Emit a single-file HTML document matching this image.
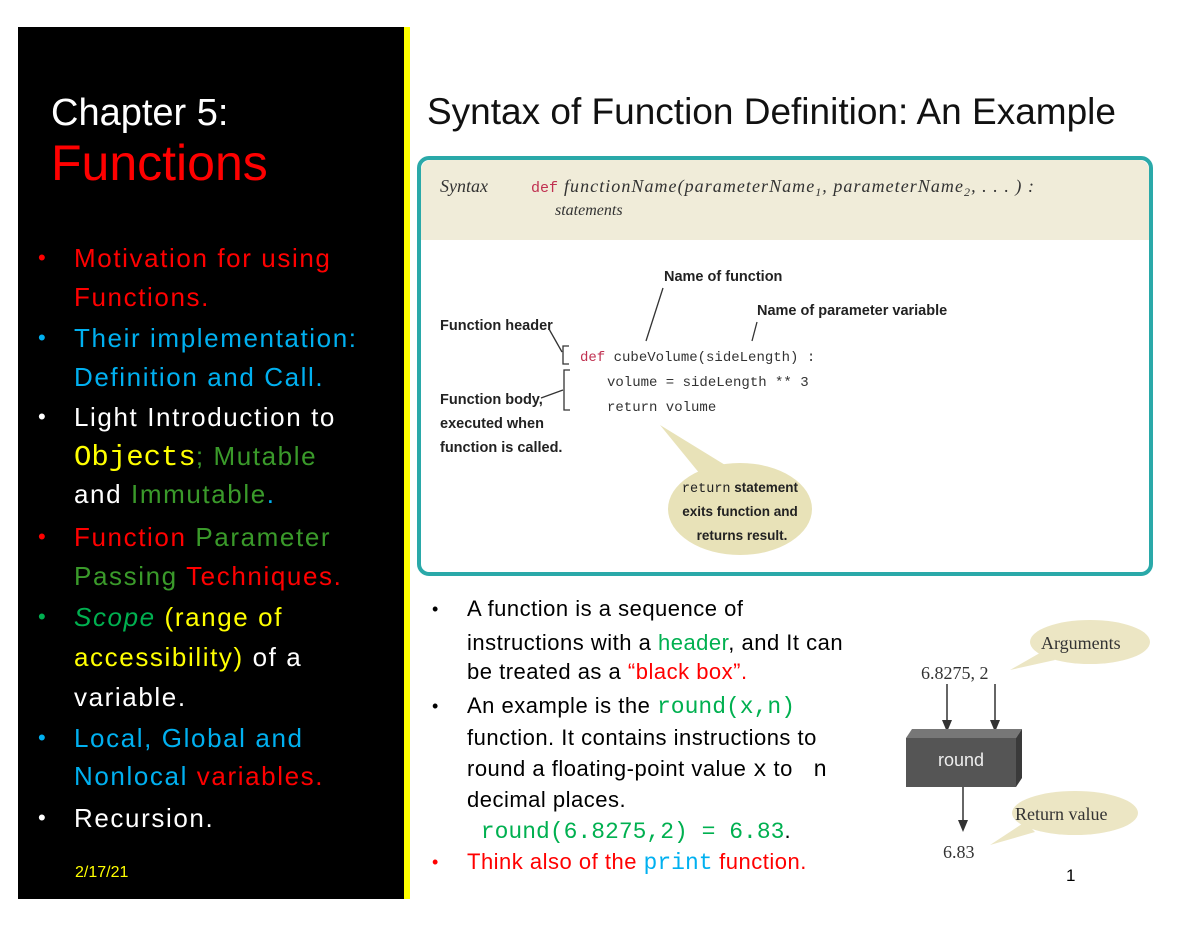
<!DOCTYPE html>
<html><head><meta charset="utf-8"><style>
body{margin:0;width:1200px;height:927px;background:#fff;position:relative;overflow:hidden;font-family:"Liberation Sans",sans-serif}
.a{position:absolute;white-space:nowrap}
#left{position:absolute;left:18px;top:27px;width:386px;height:872px;background:#000}
#ybar{position:absolute;left:404px;top:27px;width:6px;height:872px;background:#ffff00}
.l{position:absolute;left:74px;font-size:26px;letter-spacing:1.6px;line-height:40px;height:40px;white-space:nowrap}
.bd{position:absolute;left:38px;font-size:22px;line-height:40px;height:40px}
.R{color:#ff0000}.B{color:#00b0f0}.W{color:#fff}.G{color:#3a9a2a}.Y{color:#ffff00}.GG{color:#00b050}
.m{font-family:"Liberation Mono",monospace;letter-spacing:0}
.r{position:absolute;left:467px;font-size:22px;letter-spacing:0.5px;line-height:30px;height:30px;white-space:nowrap;color:#000}
.rd{position:absolute;left:432px;font-size:18px;line-height:30px;height:30px}
.rm{font-family:"Liberation Mono",monospace;font-size:23px;letter-spacing:0}
</style></head><body>
<div id="left"></div><div id="ybar"></div>
<div class="a W" style="left:51px;top:90px;font-size:38px;line-height:46px">Chapter 5:</div>
<div class="a R" style="left:51px;top:134px;font-size:50px;line-height:58px">Functions</div>

<div class="bd R" style="top:238px">•</div><div class="l R" style="top:238px">Motivation for using</div>
<div class="l R" style="top:277px">Functions.</div>
<div class="bd B" style="top:318px">•</div><div class="l B" style="top:318px">Their implementation:</div>
<div class="l B" style="top:357px">Definition and Call.</div>
<div class="bd W" style="top:397px">•</div><div class="l W" style="top:397px">Light Introduction to</div>
<div class="l" style="top:436px"><span class="Y m" style="font-size:29px">Objects</span><span class="G">; Mutable</span></div>
<div class="l" style="top:474px"><span class="W">and </span><span class="G">Immutable</span><span class="B">.</span></div>
<div class="bd R" style="top:517px">•</div><div class="l" style="top:517px"><span class="R">Function </span><span class="G">Parameter</span></div>
<div class="l" style="top:556px"><span class="G">Passing </span><span class="R">Techniques.</span></div>
<div class="bd GG" style="top:597px">•</div><div class="l" style="top:597px"><i class="GG">Scope</i><span class="Y"> (range of</span></div>
<div class="l" style="top:637px"><span class="Y">accessibility)</span><span class="W"> of a</span></div>
<div class="l W" style="top:677px">variable.</div>
<div class="bd B" style="top:718px">•</div><div class="l B" style="top:718px">Local, Global and</div>
<div class="l" style="top:756px"><span class="B">Nonlocal </span><span class="R">variables.</span></div>
<div class="bd W" style="top:798px">•</div><div class="l W" style="top:798px">Recursion.</div>
<div class="a Y" style="left:75px;top:864px;font-size:16px">2/17/21</div>

<div class="a" style="left:427px;top:89px;font-size:37px;line-height:46px;color:#111">Syntax of Function Definition: An Example</div>

<svg class="a" style="left:0;top:0" width="1200" height="927">
<rect x="419" y="158" width="732" height="416" rx="10" fill="#fff" stroke="#2aa9a9" stroke-width="4"/>
<path d="M421 170 a10 10 0 0 1 10 -10 H1139 a10 10 0 0 1 10 10 V240 H421Z" fill="#f0ecd9"/>
<g font-family="Liberation Serif,serif" font-size="18" fill="#333">
<text x="440" y="192" font-style="italic">Syntax</text>
<text x="531" y="192" font-family="Liberation Mono,monospace" font-size="15" fill="#c03050">def</text>
<text x="564" y="192" font-style="italic" textLength="470">functionName(parameterName<tspan font-size="12" dy="4">1</tspan><tspan dy="-4">, parameterName</tspan><tspan font-size="12" dy="4">2</tspan><tspan dy="-4">, . . . ) :</tspan></text>
<text x="555" y="215" font-style="italic" font-size="16">statements</text>
</g>
<g font-family="Liberation Sans Narrow,Liberation Sans,sans-serif" font-weight="bold" font-size="14.5" fill="#222">
<text x="664" y="281">Name of function</text>
<text x="757" y="315">Name of parameter variable</text>
<text x="440" y="330">Function header</text>
<text x="440" y="404">Function body,</text>
<text x="440" y="428">executed when</text>
<text x="440" y="452">function is called.</text>
</g>
<g stroke="#333" stroke-width="1.3" fill="none">
<line x1="663" y1="288" x2="646" y2="341"/>
<line x1="757" y1="322" x2="752" y2="341"/>
<line x1="549" y1="329" x2="562" y2="352"/>
<path d="M569 346 H563 V364 H569"/>
<path d="M570 370 H564 V410 H570"/>
<line x1="541" y1="398" x2="563" y2="390"/>
</g>
<g font-family="Liberation Mono,monospace" font-size="14" fill="#333">
<text x="580" y="361"><tspan fill="#c03050">def</tspan> cubeVolume(sideLength) :</text>
<text x="607" y="386">volume = sideLength ** 3</text>
<text x="607" y="411">return volume</text>
</g>
<ellipse cx="740" cy="509" rx="72" ry="46" fill="#e8e2b8"/>
<path d="M660 425 L700 474 L730 468Z" fill="#e8e2b8"/>
<g font-family="Liberation Sans Narrow,Liberation Sans,sans-serif" font-weight="bold" font-size="13.5" fill="#222" text-anchor="middle">
<text x="740" y="492"><tspan font-family="Liberation Mono,monospace" font-weight="normal">return</tspan> statement</text>
<text x="740" y="516">exits function and</text>
<text x="742" y="540">returns result.</text>
</g>
<ellipse cx="1090" cy="642" rx="60" ry="22" fill="#ece6c4"/>
<path d="M1010 670 L1045 650 L1055 660Z" fill="#ece6c4"/>
<ellipse cx="1075" cy="813" rx="63" ry="22" fill="#ece6c4"/>
<path d="M990 845 L1025 822 L1035 832Z" fill="#ece6c4"/>
<g font-family="Liberation Serif,serif" font-size="18" fill="#333">
<text x="1041" y="649">Arguments</text>
<text x="921" y="679">6.8275, 2</text>
<text x="1015" y="820">Return value</text>
<text x="943" y="858">6.83</text>
</g>
<g stroke="#333" stroke-width="1.5">
<line x1="947" y1="684" x2="947" y2="722"/><line x1="995" y1="684" x2="995" y2="722"/>
<line x1="963" y1="787" x2="963" y2="822"/>
</g>
<g fill="#333"><path d="M942 720 L952 720 L947 732Z"/><path d="M990 720 L1000 720 L995 732Z"/><path d="M958 820 L968 820 L963 832Z"/></g>
<path d="M906 738 L912 729 L1022 729 L1016 738Z" fill="#777"/>
<path d="M1016 738 L1022 729 L1022 778 L1016 787Z" fill="#3a3a3a"/>
<rect x="906" y="738" width="110" height="49" fill="#555"/>
<text x="961" y="766" text-anchor="middle" font-family="Liberation Sans,sans-serif" font-size="18" fill="#eee">round</text>
<text x="1066" y="881" font-family="Liberation Sans,sans-serif" font-size="17" fill="#000">1</text>
</svg>

<div class="rd" style="top:594px">•</div><div class="r" style="top:594px">A function is a sequence of</div>
<div class="r" style="top:628px">instructions with a <span class="GG">header</span>, and It can</div>
<div class="r" style="top:657px">be treated as a <span class="R">“black box”.</span></div>
<div class="rd" style="top:691px">•</div><div class="r" style="top:691px">An example is the <span class="rm GG">round(x,n)</span></div>
<div class="r" style="top:723px">function. It contains instructions to</div>
<div class="r" style="top:754px">round a floating-point value <span class="rm">x</span> to <span class="rm">&nbsp;n</span></div>
<div class="r" style="top:785px">decimal places.</div>
<div class="r" style="top:816px"><span class="rm GG">&nbsp;round(6.8275,2) = 6.83</span>.</div>
<div class="rd R" style="top:847px">•</div><div class="r" style="top:847px"><span class="R">Think also of the </span><span class="rm B">print</span><span class="R"> function.</span></div>
</body></html>
